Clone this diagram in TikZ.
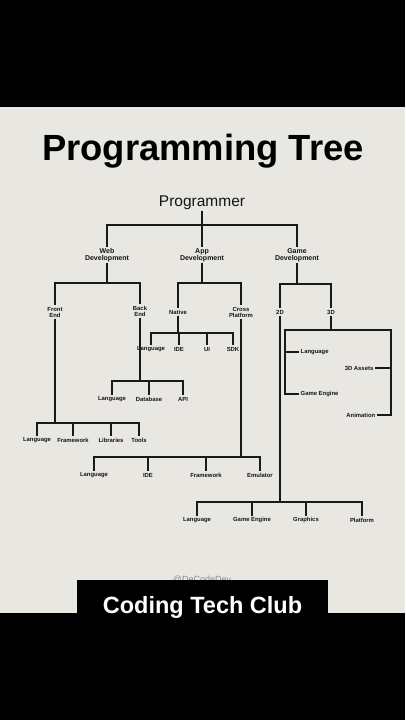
\documentclass[tikz,border=0pt]{standalone}
\usepackage{fontspec}
\usepackage{graphicx}
\setmainfont{Liberation Sans}
\definecolor{bgc}{RGB}{233,231,226}
\definecolor{linec}{RGB}{25,25,25}
\definecolor{txt}{RGB}{20,20,20}
\definecolor{wm}{RGB}{140,140,140}
\begin{document}
\begin{tikzpicture}[x=1pt,y=-1pt,
  ln/.style={draw=linec, line width=1.2pt},
  progst/.style={font=\fontsize{15.5}{16}\selectfont, inner sep=0.5pt, text=txt},
  lvA/.style={font=\bfseries\fontsize{7}{7}\selectfont, align=center, inner sep=1.5pt, text=txt},
  lab/.style={font=\bfseries\fontsize{5.9}{6}\selectfont, align=center, inner sep=1.5pt, text=txt},
]
\useasboundingbox (0,0) rectangle (405,720);
\fill[bgc] (0,0) rectangle (405,720);
\fill[black] (0,0) rectangle (405,107);
\fill[black] (0,613) rectangle (405,720);

% title
\node[anchor=base, inner sep=0, text=black, font=\bfseries\fontsize{36.4}{40}\selectfont] (title) at (203,160) {Programming Tree};

% levels
\node[progst] (prog) at (202,203) {Programmer};
\node[lvA] (web) at (107,255) {Web\\Development};
\node[lvA] (app) at (202,255) {App\\Development};
\node[lvA] (game) at (297,255) {Game\\Development};

\node[lab] (fe) at (55,312) {Front\\End};
\node[lab] (be) at (140,311) {Back\\End};
\node[lab] (nat) at (178,312) {Native};
\node[lab] (cp) at (241,312) {Cross\\Platform};
\node[lab] (d2) at (280,312) {2D};
\node[lab] (d3) at (331,312) {3D};

% front end children
\node[lab] (fl) at (37,440) {Language};
\node[lab] (ff) at (73,440) {Framework};
\node[lab] (fli) at (111,440) {Libraries};
\node[lab] (ft) at (139,440) {Tools};
% back end children
\node[lab] (bl) at (112,399) {Language};
\node[lab] (bd) at (149,399) {Database};
\node[lab] (ba) at (183,399) {API};
% native children
\node[lab] (nl) at (151,349) {Language};
\node[lab] (ni) at (179,349) {IDE};
\node[lab] (nu) at (207,349) {UI};
\node[lab] (ns) at (233,349) {SDK};
% cross platform children
\node[lab] (cl) at (94,475) {Language};
\node[lab] (ci) at (148,475) {IDE};
\node[lab] (cf) at (206,475) {Framework};
\node[lab] (ce) at (260,475) {Emulator};
% 2D children
\node[lab] (tl) at (197,520) {Language};
\node[lab] (tg) at (252,520) {Game Engine};
\node[lab] (tgr) at (306,520) {Graphics};
\node[lab] (tp) at (362,520) {Platform};
% 3D children
\node[lab, anchor=west] (l3) at (299,352) {Language};
\node[lab, anchor=west] (g3) at (299,394) {Game Engine};
\node[lab, anchor=east] (a3) at (375,368) {3D Assets};
\node[lab, anchor=east] (an3) at (377,415) {Animation};

% connectors
\foreach \c in {web,app,game}
  \draw[ln] (prog.south) -- (prog.south |- 0,225) -| (\c.north);
\foreach \c in {fe,be}
  \draw[ln] (web.south) -- (web.south |- 0,283) -| (\c.north);
\foreach \c in {nat,cp}
  \draw[ln] (app.south) -- (app.south |- 0,283) -| (\c.north);
\foreach \c in {d2,d3}
  \draw[ln] (game.south) -- (game.south |- 0,284) -| (\c.north);
\foreach \c in {fl,ff,fli,ft}
  \draw[ln] (fe.south) -- (fe.south |- 0,423) -| (\c.north);
\foreach \c in {bl,bd,ba}
  \draw[ln] (be.south) -- (be.south |- 0,381) -| (\c.north);
\foreach \c in {nl,ni,nu,ns}
  \draw[ln] (nat.south) -- (nat.south |- 0,333) -| (\c.north);
\foreach \c in {cl,ci,cf,ce}
  \draw[ln] (cp.south) -- (cp.south |- 0,457) -| (\c.north);
\foreach \c in {tl,tg,tgr,tp}
  \draw[ln] (d2.south) -- (d2.south |- 0,502) -| (\c.north);
\coordinate (j3L) at (285,330);
\coordinate (j3R) at (391,330);
\draw[ln] (d3.south) -- (d3.south |- j3L) -- (j3L) |- (l3.west);
\draw[ln] (j3L) |- (g3.west);
\draw[ln] (d3.south |- j3R) -- (j3R) |- (a3.east);
\draw[ln] (j3R) |- (an3.east);

% watermark and banner
\node[anchor=base, inner sep=0, text=wm, font=\fontsize{9}{10}\selectfont] (wmk) at (202,582) {@DeCodeDev};
\fill[black] (77,580) rectangle (328,614);
\node[anchor=base, inner sep=0, text=white, font=\bfseries\fontsize{23.5}{26}\selectfont] (club) at (202.5,613) {Coding Tech Club};
\end{tikzpicture}
\end{document}
